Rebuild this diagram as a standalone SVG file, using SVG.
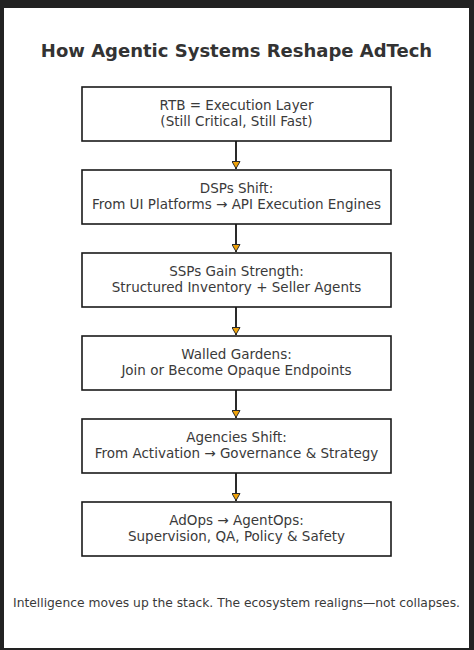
<svg xmlns="http://www.w3.org/2000/svg" width="474" height="650" viewBox="0 0 474 650">
<defs>
<style>
.box{fill:#fff;stroke:#1a1a1a;stroke-width:1.6}
.t{font-family:"DejaVu Sans",sans-serif;font-size:13.5px;fill:#3a3a3a;text-anchor:middle}
.title{font-family:"DejaVu Sans",sans-serif;font-size:18px;font-weight:bold;fill:#333;text-anchor:middle}
.foot{font-family:"DejaVu Sans",sans-serif;font-size:12.3px;fill:#3a3a3a;text-anchor:middle}
.c{stroke:#2a2a2a;stroke-width:2;fill:none;marker-end:url(#ah)}
</style>
<marker id="ah" viewBox="0 0 8 9" refX="8" refY="4.5" markerWidth="8" markerHeight="9" markerUnits="userSpaceOnUse" orient="auto">
<path d="M0.5,0.5 L7.5,4.5 L0.5,8.5 Z" fill="#f0a30a" stroke="#2a2a2a" stroke-width="1"/>
</marker>
</defs>
<rect x="0" y="0" width="474" height="650" fill="#222"/>
<rect x="4" y="8" width="465" height="640" fill="#fff"/>
<text class="title" x="236.5" y="57">How Agentic Systems Reshape AdTech</text>
<g id="connectors">
<line class="c" x1="236" y1="141" x2="236" y2="169"/>
<line class="c" x1="236" y1="224" x2="236" y2="252"/>
<line class="c" x1="236" y1="307" x2="236" y2="335"/>
<line class="c" x1="236" y1="390" x2="236" y2="418"/>
<line class="c" x1="236" y1="473" x2="236" y2="501"/>
</g>
<g id="n1"><rect class="box" x="82" y="87" width="309" height="54"/>
<text class="t" x="236.5" y="110">RTB = Execution Layer</text><text class="t" x="236.5" y="126">(Still Critical, Still Fast)</text></g>
<g id="n2"><rect class="box" x="82" y="170" width="309" height="54"/>
<text class="t" x="236.5" y="193">DSPs Shift:</text><text class="t" x="236.5" y="209">From UI Platforms → API Execution Engines</text></g>
<g id="n3"><rect class="box" x="82" y="253" width="309" height="54"/>
<text class="t" x="236.5" y="276">SSPs Gain Strength:</text><text class="t" x="236.5" y="292">Structured Inventory + Seller Agents</text></g>
<g id="n4"><rect class="box" x="82" y="336" width="309" height="54"/>
<text class="t" x="236.5" y="359">Walled Gardens:</text><text class="t" x="236.5" y="375">Join or Become Opaque Endpoints</text></g>
<g id="n5"><rect class="box" x="82" y="419" width="309" height="54"/>
<text class="t" x="236.5" y="442">Agencies Shift:</text><text class="t" x="236.5" y="458">From Activation → Governance &amp; Strategy</text></g>
<g id="n6"><rect class="box" x="82" y="502" width="309" height="54"/>
<text class="t" x="236.5" y="525">AdOps → AgentOps:</text><text class="t" x="236.5" y="541">Supervision, QA, Policy &amp; Safety</text></g>
<text class="foot" x="236.5" y="607">Intelligence moves up the stack. The ecosystem realigns—not collapses.</text>
</svg>
